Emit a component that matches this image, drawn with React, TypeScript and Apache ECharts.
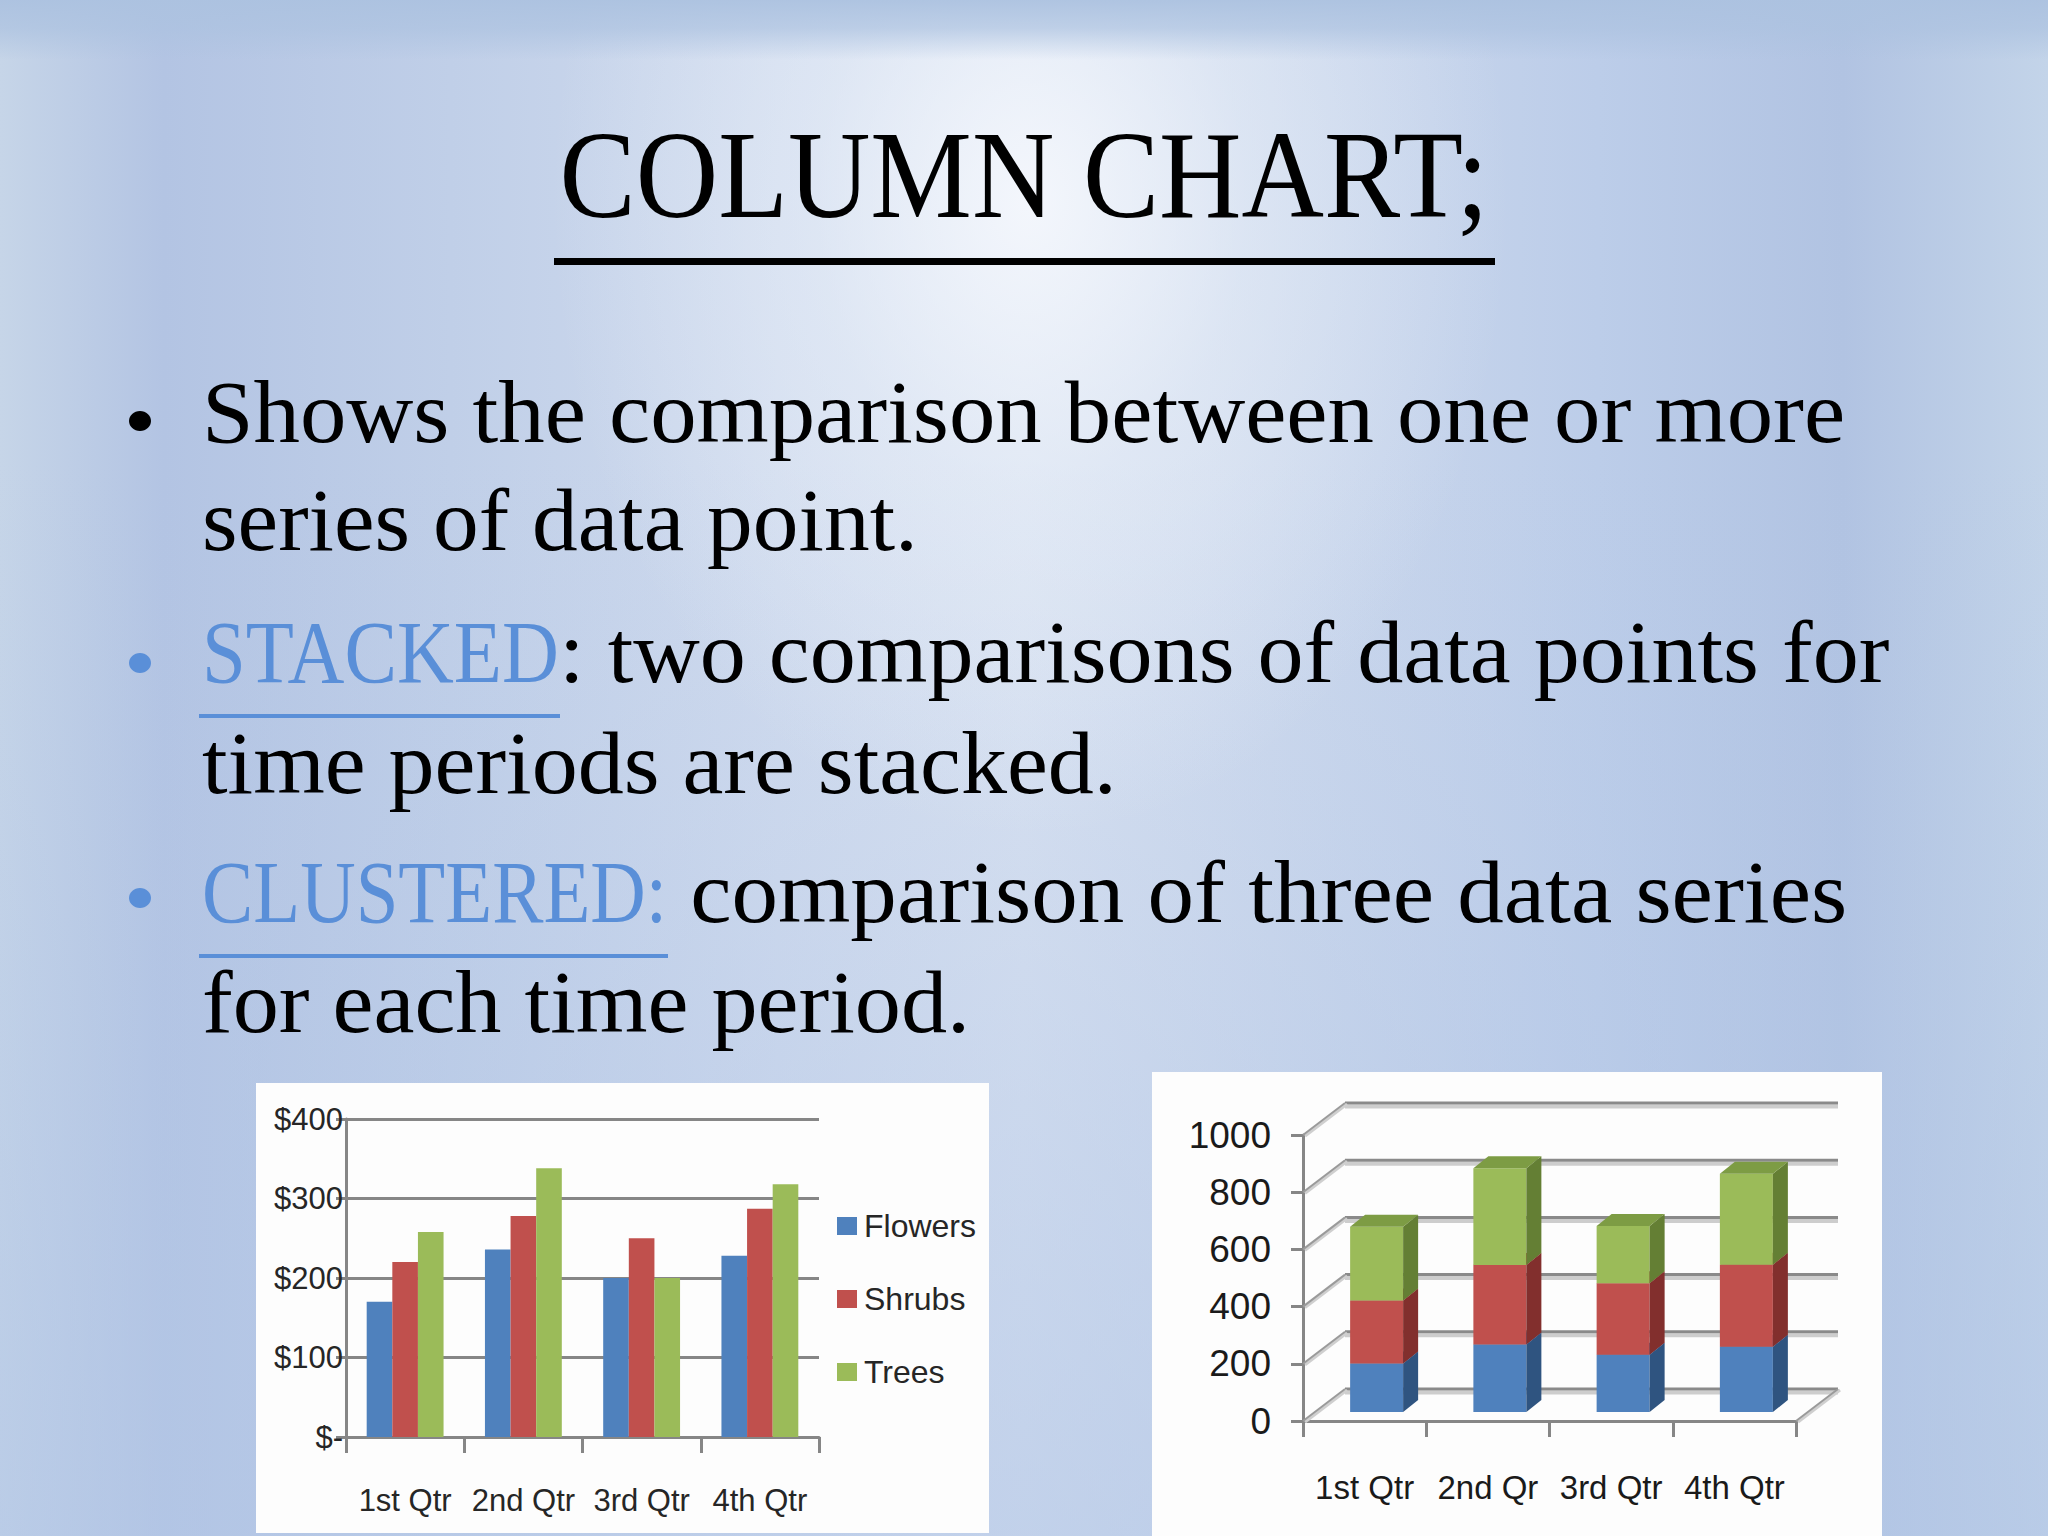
import React, { useEffect, useRef } from "react";
import * as echarts from "echarts";

// ---------- data ----------
const categories = ["1st Qtr", "2nd Qtr", "3rd Qtr", "4th Qtr"];
const categories3D = ["1st Qtr", "2nd Qr", "3rd Qtr", "4th Qtr"];
const seriesNames = ["Flowers", "Shrubs", "Trees"];
const flowers = [170, 236, 200, 228];
const shrubs = [220, 278, 250, 287];
const trees = [258, 338, 200, 318];
const clusteredTickLabels = ["$-", "$100", "$200", "$300", "$400"];
const stackedTicks = [0, 200, 400, 600, 800, 1000];

const titleText = "COLUMN CHART;";
const line1 = "Shows the comparison between one or more";
const line2 = "series of data point.";
const line3a = "STACKED";
const line3b = ": two comparisons of data points for";
const line4 = "time periods are stacked.";
const line5a = "CLUSTERED:";
const line5b = " comparison of three data series";
const line6 = "for each time period.";

// ---------- styles ----------
const FRONT = ["#4f81bd", "#c0504d", "#9bbb59"];
const SIDE = ["#2f5480", "#822f2d", "#647f34"];
const TOP = ["#3e6aa1", "#a5413e", "#7d9c44"];
const BLUE_TXT = "#5a8fd8";
const SERIF = '"Liberation Serif", "Times New Roman", serif';
const SANS = '"Liberation Sans", Arial, sans-serif';
const AXIS_GRAY = "#868686";
const LABEL_COLOR = "#262626";

// 3D geometry
const WDX = 42, WDY = 32; // wall depth
const FX = 12, FY = 9; // bar front offset into depth
const BDX = 15, BDY = 12; // bar depth

export default function App() {
  const ref = useRef<HTMLDivElement>(null);

  useEffect(() => {
    if (!ref.current) return;
    const chart = echarts.init(ref.current, null, { renderer: "svg" });

    const ctx = document.createElement("canvas").getContext("2d")!;
    const measure = (t: string, fs: number) => {
      ctx.font = `${fs}px "Liberation Serif"`;
      return ctx.measureText(t).width;
    };
    const CENTRAL = 0.3375;

    const mkText = (t: string, x: number, base: number, fs: number, s: number, fill: string, align: string) => ({
      type: "text",
      x,
      y: base - CENTRAL * fs,
      scaleX: s,
      z: 5,
      style: {
        text: t,
        x: 0,
        y: 0,
        font: `${fs}px ${SERIF}`,
        fill,
        align,
        textAlign: align,
        verticalAlign: "middle",
        textVerticalAlign: "middle",
      },
    });

    const texts: any[] = [];
    const tfs = 124;
    texts.push(mkText(titleText, 1024, 217, tfs, 929 / measure(titleText, tfs), "#000", "center"));

    const bfs = 88;
    const X0 = 202;
    // each part: text, colour, right edge of the part in the slide
    const lines: { parts: [string, string, number][]; base: number }[] = [
      { parts: [[line1, "#000", 1845]], base: 442 },
      { parts: [[line2, "#000", 918]], base: 550 },
      { parts: [[line3a, BLUE_TXT, 559], [line3b, "#000", 1890]], base: 682 },
      { parts: [[line4, "#000", 1117]], base: 793 },
      { parts: [[line5a, BLUE_TXT, 667], [line5b, "#000", 1847]], base: 922 },
      { parts: [[line6, "#000", 970]], base: 1032 },
    ];
    lines.forEach((ln) => {
      let x = X0;
      ln.parts.forEach(([t, c, right]) => {
        const s = (right - x) / measure(t, bfs);
        texts.push(mkText(t, x, ln.base, bfs, s, c, "left"));
        x = right;
      });
    });

    const graphics: any[] = [
      { type: "rect", z: 5, shape: { x: 554, y: 258, width: 941, height: 7 }, style: { fill: "#000" } },
      { type: "ellipse", z: 5, shape: { cx: 140, cy: 421, rx: 11, ry: 10 }, style: { fill: "#000" } },
      { type: "ellipse", z: 5, shape: { cx: 140, cy: 663, rx: 11, ry: 10 }, style: { fill: BLUE_TXT } },
      { type: "ellipse", z: 5, shape: { cx: 140, cy: 898, rx: 11, ry: 10 }, style: { fill: BLUE_TXT } },
      { type: "rect", z: 5, shape: { x: 199, y: 714, width: 361, height: 4 }, style: { fill: BLUE_TXT } },
      { type: "rect", z: 5, shape: { x: 199, y: 954, width: 469, height: 4 }, style: { fill: BLUE_TXT } },
      { type: "rect", z: 0, shape: { x: 256, y: 1083, width: 733, height: 450 }, style: { fill: "#fdfdfd" } },
      { type: "rect", z: 0, shape: { x: 1152, y: 1072, width: 730, height: 464 }, style: { fill: "#fdfdfd" } },
      ...texts,
    ];

    const stackData = [flowers, shrubs, trees];

    const barSeries = seriesNames.map((name, s) => ({
      name,
      type: "bar",
      xAxisIndex: 0,
      yAxisIndex: 0,
      barGap: "0%",
      barCategoryGap: "35%",
      itemStyle: { color: FRONT[s] },
      data: stackData[s],
      z: 3,
    }));

    const wallSeries = {
      name: "walls",
      type: "custom",
      xAxisIndex: 1,
      yAxisIndex: 1,
      z: 1,
      clip: false,
      silent: true,
      encode: { x: 0, y: 1 },
      data: stackedTicks.map((v) => [0, v]),
      renderItem: (params: any, api: any) => {
        const cs = params.coordSys;
        const v = api.value(1);
        const y = api.coord([0, v])[1];
        const xa = cs.x;
        const xb = cs.x + cs.width;
        const children: any[] = [
          { type: "line", shape: { x1: xa + WDX, y1: y - WDY + 3.5, x2: xb + WDX, y2: y - WDY + 3.5 }, style: { stroke: "#cdcdcd", lineWidth: 4 } },
          { type: "line", shape: { x1: xa + WDX, y1: y - WDY, x2: xb + WDX, y2: y - WDY }, style: { stroke: "#8a8a8a", lineWidth: 3 } },
          { type: "line", shape: { x1: xa + 2, y1: y + 1, x2: xa + WDX + 2, y2: y - WDY + 1 }, style: { stroke: "#cfcfcf", lineWidth: 3 } },
          { type: "line", shape: { x1: xa, y1: y, x2: xa + WDX, y2: y - WDY }, style: { stroke: "#9a9a9a", lineWidth: 2 } },
        ];
        if (v === 0) {
          children.push({ type: "line", shape: { x1: xb + 2, y1: y + 1, x2: xb + WDX + 2, y2: y - WDY + 1 }, style: { stroke: "#cfcfcf", lineWidth: 3 } });
          children.push({ type: "line", shape: { x1: xb, y1: y, x2: xb + WDX, y2: y - WDY }, style: { stroke: "#9a9a9a", lineWidth: 2 } });
        }
        return { type: "group", children };
      },
    };

    const stack3D = seriesNames.map((name, s) => ({
      name: name + " (stacked)",
      type: "custom",
      xAxisIndex: 1,
      yAxisIndex: 1,
      z: 3,
      clip: false,
      encode: { x: 0, y: [1, 2] },
      data: categories3D.map((_, i) => {
        let base = 0;
        for (let k = 0; k < s; k++) base += stackData[k][i];
        return [i, base, base + stackData[s][i]];
      }),
      renderItem: (params: any, api: any) => {
        const i = api.value(0);
        const b = api.value(1);
        const t = api.value(2);
        const pb = api.coord([i, b]);
        const pt = api.coord([i, t]);
        const bw = api.size([1, 0])[0] * 0.43;
        const x0 = pb[0] - bw / 2 + FX;
        const x1 = x0 + bw;
        const yb = pb[1] - FY;
        const yt = pt[1] - FY;
        return {
          type: "group",
          children: [
            { type: "rect", shape: { x: x0, y: yt, width: bw, height: yb - yt }, style: { fill: FRONT[s] } },
            { type: "polygon", shape: { points: [[x1, yb], [x1 + BDX, yb - BDY], [x1 + BDX, yt - BDY], [x1, yt]] }, style: { fill: SIDE[s] } },
            { type: "polygon", shape: { points: [[x0, yt], [x1, yt], [x1 + BDX, yt - BDY], [x0 + BDX, yt - BDY]] }, style: { fill: TOP[s] } },
          ],
        };
      },
    }));

    chart.setOption({
      animation: false,
      backgroundColor: "transparent",
      graphic: { elements: graphics },
      legend: {
        data: seriesNames,
        orient: "vertical",
        left: 837,
        top: 1208,
        padding: 0,
        icon: "rect",
        itemWidth: 20,
        itemHeight: 18,
        itemGap: 37,
        textStyle: { fontFamily: SANS, fontSize: 32, color: LABEL_COLOR, lineHeight: 36, padding: [0, 0, 0, 2] },
      },
      grid: [
        { left: 346, top: 1119, width: 473, height: 318 },
        { left: 1303, top: 1135, width: 493, height: 286 },
      ],
      xAxis: [
        {
          gridIndex: 0,
          type: "category",
          data: categories,
          axisLine: { show: true, lineStyle: { color: AXIS_GRAY, width: 3 } },
          axisTick: { show: true, length: 16, lineStyle: { color: AXIS_GRAY, width: 3 } },
          axisLabel: { interval: 0, fontFamily: SANS, fontSize: 31, color: LABEL_COLOR, margin: 48 },
        },
        {
          gridIndex: 1,
          type: "category",
          data: categories3D,
          axisLine: { show: true, lineStyle: { color: AXIS_GRAY, width: 3 } },
          axisTick: { show: true, length: 16, lineStyle: { color: AXIS_GRAY, width: 3 } },
          axisLabel: { interval: 0, fontFamily: SANS, fontSize: 33, color: "#1a1a1a", margin: 50 },
        },
      ],
      yAxis: [
        {
          gridIndex: 0,
          type: "value",
          min: 0,
          max: 400,
          interval: 100,
          axisLine: { show: true, lineStyle: { color: AXIS_GRAY, width: 3 } },
          axisTick: { show: true, length: 10, lineStyle: { color: AXIS_GRAY, width: 3 } },
          splitLine: { show: true, lineStyle: { color: AXIS_GRAY, width: 3 } },
          axisLabel: {
            fontFamily: SANS,
            fontSize: 31,
            color: LABEL_COLOR,
            margin: 3,
            formatter: (v: number) => clusteredTickLabels[Math.round(v / 100)],
          },
        },
        {
          gridIndex: 1,
          type: "value",
          min: 0,
          max: 1000,
          interval: 200,
          axisLine: { show: true, lineStyle: { color: AXIS_GRAY, width: 3 } },
          axisTick: { show: true, length: 12, lineStyle: { color: AXIS_GRAY, width: 3 } },
          splitLine: { show: false },
          axisLabel: {
            fontFamily: SANS,
            fontSize: 37,
            color: "#1a1a1a",
            margin: 32,
            formatter: (v: number) => String(v),
          },
        },
      ],
      series: [...barSeries, wallSeries, ...stack3D],
    });

    return () => chart.dispose();
  }, []);

  return (
    <div
      style={{
        position: "absolute",
        left: 0,
        top: 0,
        width: 2048,
        height: 1536,
        overflow: "hidden",
        background: [
          "linear-gradient(to bottom, rgba(172,194,224,0.95) 0px, rgba(172,194,224,0.7) 28px, rgba(172,194,224,0) 60px)",
          "radial-gradient(ellipse 480px 640px at 1030px 200px, rgba(248,250,254,0.85) 0%, rgba(236,242,250,0.45) 45%, rgba(236,242,250,0) 100%)",
          "linear-gradient(to bottom, rgba(178,198,230,0) 30%, rgba(178,198,230,0.6) 100%)",
          "linear-gradient(to right, #c6d5e8 0%, #b3c4e3 8%, #c0cfe8 22%, #d0dbee 38%, #d9e2f1 50%, #cdd9ed 62%, #bccde9 78%, #b1c3e2 90%, #c3d4e9 100%)",
        ].join(", "),
      }}
    >
      <div ref={ref} style={{ width: 2048, height: 1536 }} />
    </div>
  );
}
